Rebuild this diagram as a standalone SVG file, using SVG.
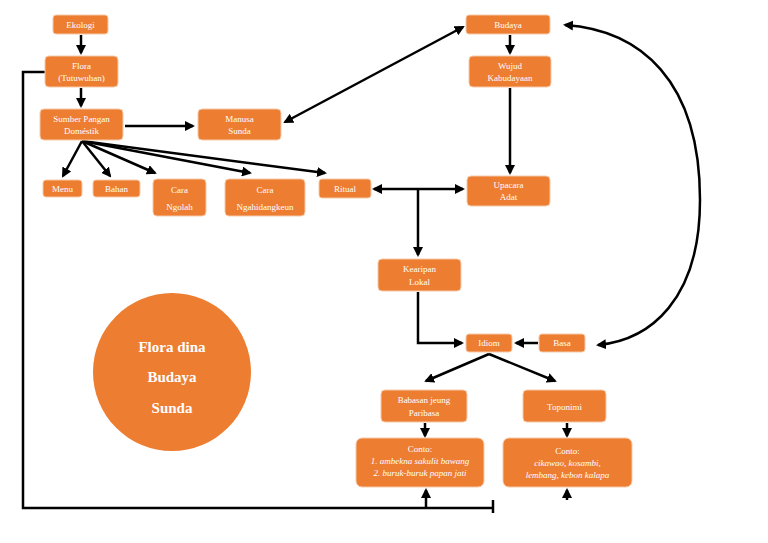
<svg xmlns="http://www.w3.org/2000/svg" width="768" height="543" viewBox="0 0 768 543">
<style>
.n{fill:#ED7D31;stroke:#f6c9a8;stroke-width:1}
.t{font-family:"Liberation Serif",serif;font-size:9px;fill:#fff;text-anchor:middle}
.c{fill:none;stroke:#000;stroke-width:2.5}
</style>
<defs><marker id="a" viewBox="0 0 10 10" refX="8" refY="5" markerWidth="4" markerHeight="4" orient="auto-start-reverse"><path d="M0,0L10,5L0,10z" fill="#000"/></marker></defs>
<rect width="768" height="543" fill="#fff"/>
<g id="connectors">
<path class="c" d="M81,35V53" marker-end="url(#a)"/>
<path class="c" d="M81,88V106" marker-end="url(#a)"/>
<path class="c" d="M125,126H193" marker-end="url(#a)"/>
<path class="c" d="M82,141L63,176" marker-end="url(#a)"/>
<path class="c" d="M82,141L110,176" marker-end="url(#a)"/>
<path class="c" d="M82,141L155,173" marker-end="url(#a)"/>
<path class="c" d="M82,141L250,173" marker-end="url(#a)"/>
<path class="c" d="M82,141L325,173" marker-end="url(#a)"/>
<path class="c" d="M285,122L463,27" marker-start="url(#a)" marker-end="url(#a)"/>
<path class="c" d="M510,35V53" marker-end="url(#a)"/>
<path class="c" d="M510,88V173" marker-end="url(#a)"/>
<path class="c" d="M374,189H463" marker-start="url(#a)" marker-end="url(#a)"/>
<path class="c" d="M418,189V255" marker-end="url(#a)"/>
<path class="c" d="M418,292V343H462" marker-end="url(#a)"/>
<path class="c" d="M538,343H516" marker-end="url(#a)"/>
<path class="c" d="M565,25C640,30 700,80 700,200C700,300 650,340 598,345" marker-start="url(#a)" marker-end="url(#a)"/>
<path class="c" d="M489,354L426,381" marker-end="url(#a)"/>
<path class="c" d="M489,354L555,381" marker-end="url(#a)"/>
<path class="c" d="M425,423V436" marker-end="url(#a)"/>
<path class="c" d="M567,423V436" marker-end="url(#a)"/>
<path class="c" d="M45,72H23V508H493"/>
<path class="c" d="M493,500V513"/>
<path class="c" d="M426,508V490" marker-end="url(#a)"/>
<path class="c" d="M567,500V490" marker-end="url(#a)"/>
</g>
<g id="ekologi"><rect class="n" x="53" y="15" width="55" height="19" rx="3"/><text class="t" x="80.5" y="28">Ekologi</text></g>
<g id="flora"><rect class="n" x="45" y="56" width="73" height="31" rx="4"/><text class="t" x="81.5" y="69">Flora</text><text class="t" x="81.5" y="81">(Tutuwuhan)</text></g>
<g id="sumber"><rect class="n" x="40" y="109" width="83" height="31" rx="4"/><text class="t" x="81.5" y="122">Sumber Pangan</text><text class="t" x="81.5" y="134">Doméstik</text></g>
<g id="manusa"><rect class="n" x="198" y="109" width="83" height="31" rx="4"/><text class="t" x="239.5" y="122">Manusa</text><text class="t" x="239.5" y="134">Sunda</text></g>
<g id="menu"><rect class="n" x="43" y="180" width="39" height="17" rx="3"/><text class="t" x="62.5" y="192">Menu</text></g>
<g id="bahan"><rect class="n" x="93" y="180" width="47" height="17" rx="3"/><text class="t" x="116.5" y="192">Bahan</text></g>
<g id="ngolah"><rect class="n" x="153" y="179" width="53" height="37" rx="4"/><text class="t" x="179.5" y="193">Cara</text><text class="t" x="179.5" y="210">Ngolah</text></g>
<g id="ngahidangkeun"><rect class="n" x="225" y="179" width="80" height="37" rx="4"/><text class="t" x="265" y="193">Cara</text><text class="t" x="265" y="210">Ngahidangkeun</text></g>
<g id="ritual"><rect class="n" x="319" y="179" width="52" height="19" rx="3"/><text class="t" x="345" y="192">Ritual</text></g>
<g id="budaya"><rect class="n" x="466" y="15" width="84" height="19" rx="3"/><text class="t" x="508" y="28">Budaya</text></g>
<g id="wujud"><rect class="n" x="469" y="56" width="82" height="31" rx="4"/><text class="t" x="510" y="69">Wujud</text><text class="t" x="510" y="81">Kabudayaan</text></g>
<g id="upacara"><rect class="n" x="467" y="176" width="83" height="30" rx="4"/><text class="t" x="508.5" y="188">Upacara</text><text class="t" x="508.5" y="200">Adat</text></g>
<g id="kearipan"><rect class="n" x="378" y="259" width="83" height="32" rx="4"/><text class="t" x="419.5" y="272">Kearipan</text><text class="t" x="419.5" y="285">Lokal</text></g>
<g id="idiom"><rect class="n" x="466" y="334" width="46" height="18" rx="3"/><text class="t" x="489" y="346">Idiom</text></g>
<g id="basa"><rect class="n" x="539" y="334" width="46" height="18" rx="3"/><text class="t" x="562" y="346">Basa</text></g>
<g id="babasan"><rect class="n" x="381" y="390" width="86" height="32" rx="4"/><text class="t" x="424" y="403">Babasan jeung</text><text class="t" x="424" y="416">Paribasa</text></g>
<g id="toponimi"><rect class="n" x="523" y="390" width="83" height="32" rx="4"/><text class="t" x="564.5" y="410">Toponimi</text></g>
<g id="conto1"><rect class="n" x="356" y="438" width="128" height="49" rx="6"/><text class="t" x="420" y="452">Conto:</text><text class="t" x="420" y="464" font-style="italic">1.  ambekna sakulit bawang</text><text class="t" x="420" y="476" font-style="italic">2.  buruk-buruk papan jati</text></g>
<g id="conto2"><rect class="n" x="503" y="438" width="129" height="49" rx="6"/><text class="t" x="567.5" y="454">Conto:</text><text class="t" x="567.5" y="466" font-style="italic">cikawao, kosambi,</text><text class="t" x="567.5" y="478" font-style="italic">lembang, kebon kalapa</text></g>
<g id="circle"><circle cx="172" cy="372" r="79" fill="#ED7D31"/><text x="172" y="352" font-family="Liberation Serif,serif" font-size="15" font-weight="bold" fill="#fff" text-anchor="middle">Flora dina</text><text x="172" y="382" font-family="Liberation Serif,serif" font-size="15" font-weight="bold" fill="#fff" text-anchor="middle">Budaya</text><text x="172" y="413" font-family="Liberation Serif,serif" font-size="15" font-weight="bold" fill="#fff" text-anchor="middle">Sunda</text></g>
</svg>
